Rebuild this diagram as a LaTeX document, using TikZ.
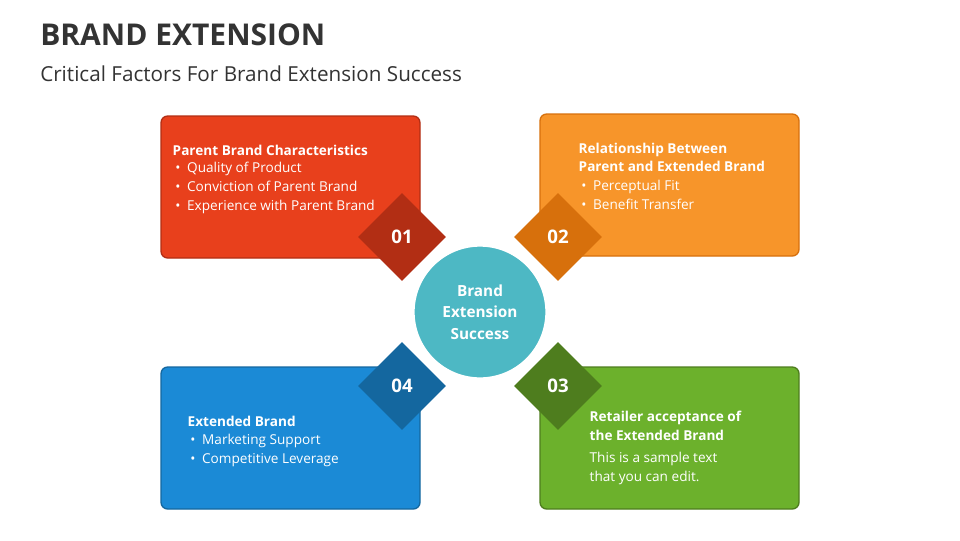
\documentclass[tikz,border=0pt]{standalone}
\usepackage{fontspec}
\setmainfont{Open Sans}
\usetikzlibrary{shapes.geometric}
\definecolor{cred}{HTML}{E8401C}\definecolor{dred}{HTML}{B22E14}
\definecolor{corg}{HTML}{F7952A}\definecolor{dorg}{HTML}{D7700C}
\definecolor{cblu}{HTML}{1B8AD6}\definecolor{dblu}{HTML}{14679F}
\definecolor{cgrn}{HTML}{6CB12C}\definecolor{dgrn}{HTML}{4E7D1E}
\definecolor{cteal}{HTML}{4DB8C4}\definecolor{ttl}{HTML}{333333}
\begin{document}
\begin{tikzpicture}[x=0.75pt,y=-0.75pt,
 box/.style={rounded corners=5pt,line width=1pt},
 dia/.style={diamond,minimum width=66pt,minimum height=66pt,inner sep=0pt,text=white,font=\bfseries\fontsize{14}{16}\selectfont},
 txt/.style={text=white,font=\fontsize{10.2}{14.2}\selectfont,anchor=north west,align=left}]
\useasboundingbox (0,0) rectangle (960,540);
\node[anchor=west,text=ttl,font=\bfseries\fontsize{22.5}{28}\selectfont,inner sep=0pt] (t) at (40,35) {BRAND EXTENSION};
\node[anchor=west,text=ttl,font=\fontsize{15.5}{18}\selectfont,inner sep=0pt] (s) at (40,74) {Critical Factors For Brand Extension Success};
\draw[box,fill=cred,draw=dred] (161,116) rectangle (420,258);
\draw[box,fill=corg,draw=dorg] (540,114) rectangle (799,256);
\draw[box,fill=cblu,draw=dblu] (161,367) rectangle (420,509);
\draw[box,fill=cgrn,draw=dgrn] (540,367) rectangle (799,509);
\node[dia,fill=dred] (d1) at (402,237) {01};
\node[dia,fill=dorg] (d2) at (558,237) {02};
\node[dia,fill=dblu] (d4) at (402,386) {04};
\node[dia,fill=dgrn] (d3) at (558,386) {03};
\node[circle,fill=cteal,draw=white,line width=2pt,minimum size=100pt,text=white,align=center,font=\bfseries\fontsize{11.5}{16}\selectfont] (c) at (480,312) {Brand\\Extension\\Success};
\node[txt] (a) at (168,140) {\textbf{Parent Brand Characteristics}\\[-1pt]
\hspace*{2pt}\textbullet\hspace{5pt}Quality of Product\\
\hspace*{2pt}\textbullet\hspace{5pt}Conviction of Parent Brand\\
\hspace*{2pt}\textbullet\hspace{5pt}Experience with Parent Brand};
\node[txt] (b) at (574,138) {\textbf{Relationship Between}\\\textbf{Parent and Extended Brand}\\
\hspace*{2pt}\textbullet\hspace{5pt}Perceptual Fit\\
\hspace*{2pt}\textbullet\hspace{5pt}Benefit Transfer};
\node[txt] (e) at (183,411) {\textbf{Extended Brand}\\
\hspace*{2pt}\textbullet\hspace{5pt}Marketing Support\\
\hspace*{2pt}\textbullet\hspace{5pt}Competitive Leverage};
\node[txt] (g) at (585,406) {\textbf{Retailer acceptance of}\\\textbf{the Extended Brand}\\[3pt]
This is a sample text\\that you can edit.};
\end{tikzpicture}
\end{document}
